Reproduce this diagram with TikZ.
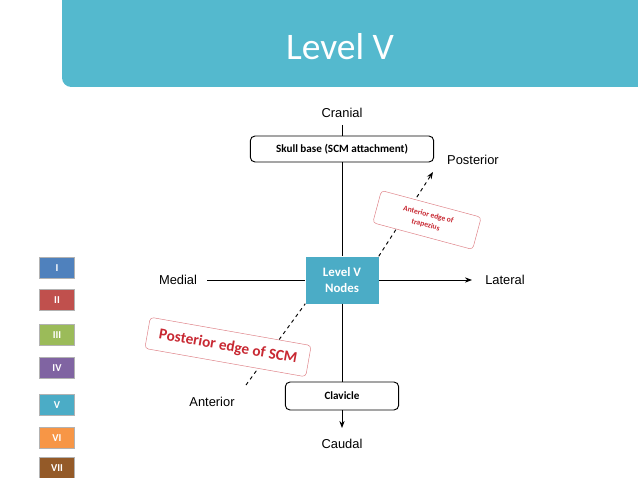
\documentclass[tikz,border=0pt]{standalone}
\usepackage{fontspec}
\setmainfont{Liberation Sans}
\newfontfamily\calib{Carlito}
\usetikzlibrary{positioning,arrows.meta}
\definecolor{banner}{RGB}{84,185,206}
\definecolor{levI}{RGB}{79,129,189}
\definecolor{levII}{RGB}{192,80,77}
\definecolor{levIII}{RGB}{155,187,89}
\definecolor{levIV}{RGB}{128,100,162}
\definecolor{levV}{RGB}{75,172,198}
\definecolor{levVI}{RGB}{247,150,70}
\definecolor{levVII}{RGB}{148,90,40}
\definecolor{edgered}{RGB}{200,40,50}
\tikzset{
    lbl/.style={font=\fontsize{11}{13}\selectfont},
    landmark/.style={draw, thick, fill=white, rounded corners=4pt, font=\calib\bfseries\fontsize{9.5}{11}\selectfont, inner sep=2pt},
    muscle/.style={draw=edgered!60, fill=white, rounded corners=3pt, text=edgered, font=\calib\bfseries, align=center},
    legend/.style={draw=white!70!black, minimum width=1.05cm, minimum height=0.62cm, text=white, font=\calib\bfseries\fontsize{9}{10}\selectfont},
}
\begin{document}
\begin{tikzpicture}[x=0.03cm,y=-0.03cm]
    \useasboundingbox (0,0) rectangle (638,478);
    % title banner
    \fill[banner, rounded corners=8pt] (62,-10) rectangle (650,87);
    \node[text=white, font=\calib\fontsize{32}{36}\selectfont] (title) at (340,47) {Level V};
    % axes
    \node[levV, fill=levV, text=white, minimum width=2.19cm, minimum height=1.41cm, align=center, font=\calib\bfseries\fontsize{11}{13}\selectfont] (nodes) at (342,280) {Level V\\Nodes};
    \node[lbl] (cranial) at (342,113) {Cranial};
    \node[lbl] (caudal) at (342,444) {Caudal};
    \node[lbl] (medial) at (178,280) {Medial};
    \node[lbl] (lateral) at (505,280) {Lateral};
    \node[lbl] (posterior) at (473,160) {Posterior};
    \node[lbl] (anterior) at (212,402) {Anterior};
    \node[landmark, minimum width=5.5cm, minimum height=0.78cm] (skull) at (342,149) {Skull base (SCM attachment)};
    \node[landmark, minimum width=3.4cm, minimum height=0.84cm] (clavicle) at (342,396) {Clavicle};
    \coordinate (ant) at (246,385);
    \coordinate (post) at (433,172);
    \coordinate (cranend) at (342,125);
    \coordinate (caudend) at (342,428);
    \coordinate (medend) at (207,280);
    \coordinate (latend) at (472,280);
    \draw[thick] (cranend) -- (skull);
    \draw[thick] (skull) -- (nodes);
    \draw[thick] (nodes) -- (clavicle);
    \draw[thick, -{Stealth[length=6pt]}] (clavicle) -- (caudend);
    \draw[thick] (medend) -- (nodes);
    \draw[thick, -{Stealth[length=6pt]}] (nodes) -- (latend);
    \draw[thick, dashed] (ant) -- (nodes.south west);
    \draw[thick, dashed, -{Stealth[length=6pt]}] (nodes.north east) -- (post);
    \node[muscle, rotate=-10, minimum width=4.9cm, minimum height=0.95cm, font=\calib\bfseries\fontsize{13}{15}\selectfont] (scm) at (228,347) {Posterior edge of SCM};
    \node[muscle, rotate=-15, minimum width=3.1cm, minimum height=1.0cm, font=\calib\bfseries\fontsize{6.5}{9}\selectfont] (trap) at (427,220) {Anterior edge of\\trapezius};
    % legend
    \foreach \lev/\col/\y in {I/levI/268, II/levII/300, III/levIII/335, IV/levIV/368, V/levV/405, VI/levVI/438, VII/levVII/468}
        \node[legend, fill=\col] (leg\lev) at (57,\y) {\lev};
\end{tikzpicture}
\end{document}
